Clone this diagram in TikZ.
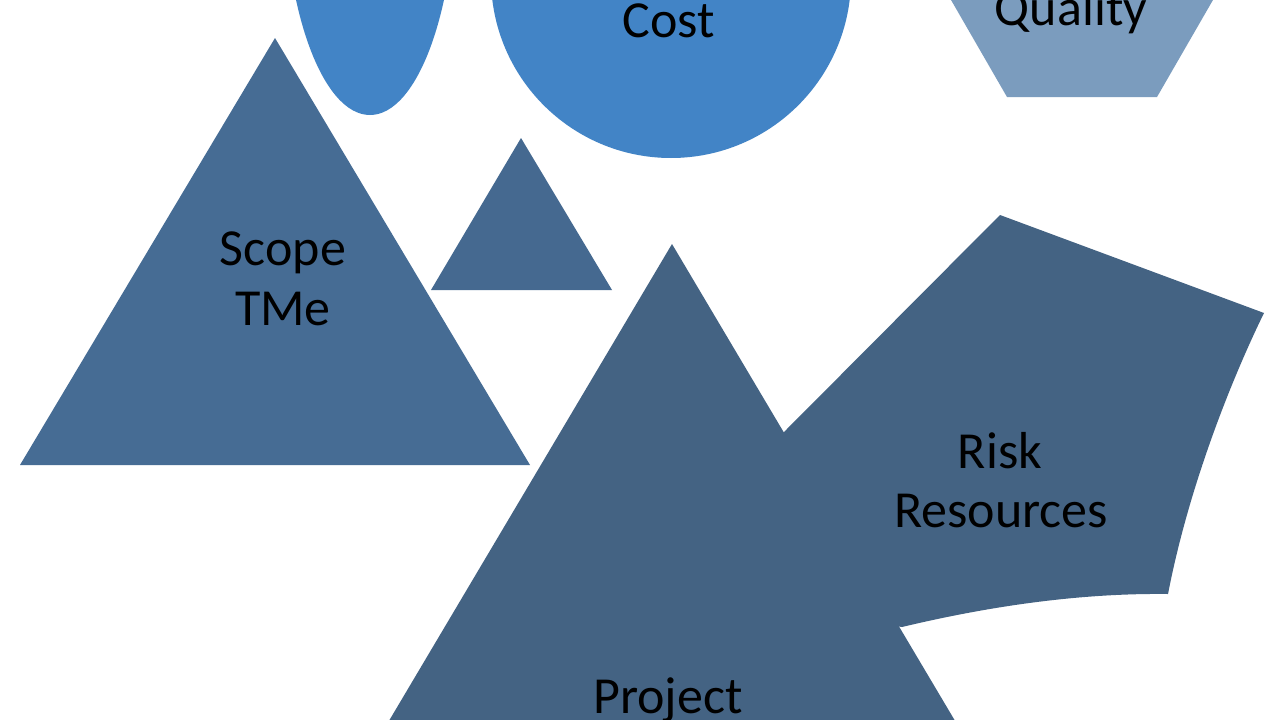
\documentclass[tikz,border=0pt]{standalone}
\usepackage{fontspec}
\setmainfont{Carlito}
\definecolor{cblue}{HTML}{4284C6}
\definecolor{qblue}{HTML}{7B9CBE}
\definecolor{sblue}{HTML}{466C94}
\definecolor{tblue}{HTML}{456990}
\definecolor{pblue}{HTML}{446383}
\begin{document}
\begin{tikzpicture}[x=1pt,y=-1pt,
  lbl/.style={font=\fontsize{52}{60}\selectfont, text=black, anchor=base, inner sep=0pt}]
\useasboundingbox (0,0) rectangle (1280,720);
\clip (0,0) rectangle (1280,720);
\fill[white] (0,0) rectangle (1280,720);
% ellipse
\fill[cblue] (370,-120) ellipse [x radius=86, y radius=235];
% circle Cost
\fill[cblue] (671,-22) circle [radius=180];
% hexagon Quality
\fill[qblue] (932,-33) -- (1007,97) -- (1157,97) -- (1232,-33) -- (1157,-163) -- (1007,-163) -- cycle;
% Scope triangle
\fill[sblue] (275,38) -- (530,465) -- (20,465) -- cycle;
% small triangle
\fill[tblue] (521,138) -- (612,290) -- (431,290) -- cycle;
% Project triangle
\fill[pblue] (672,244) -- (1002,800) -- (342,800) -- cycle;
% Risk shape (its left part runs into the triangle)
\fill[pblue] (784,432) -- (1000,215) -- (1264,313)
  .. controls (1236,370) and (1190,480) .. (1168,594)
  .. controls (1080,593) and (990,606) .. (902,627)
  -- (860,620) -- (760,450) -- cycle;
% labels
\node[lbl] (cost) at (669,37) {Cost};
\node[lbl] (quality) at (1071,25) {Quality};
\node[lbl] (scope) at (283,265) {Scope};
\node[lbl] (tme) at (283,325) {TMe};
\node[lbl] (risk) at (1000,468) {Risk};
\node[lbl] (resources) at (1001,527) {Resources};
\node[lbl] (project) at (668,713) {Project};
\end{tikzpicture}
\end{document}
